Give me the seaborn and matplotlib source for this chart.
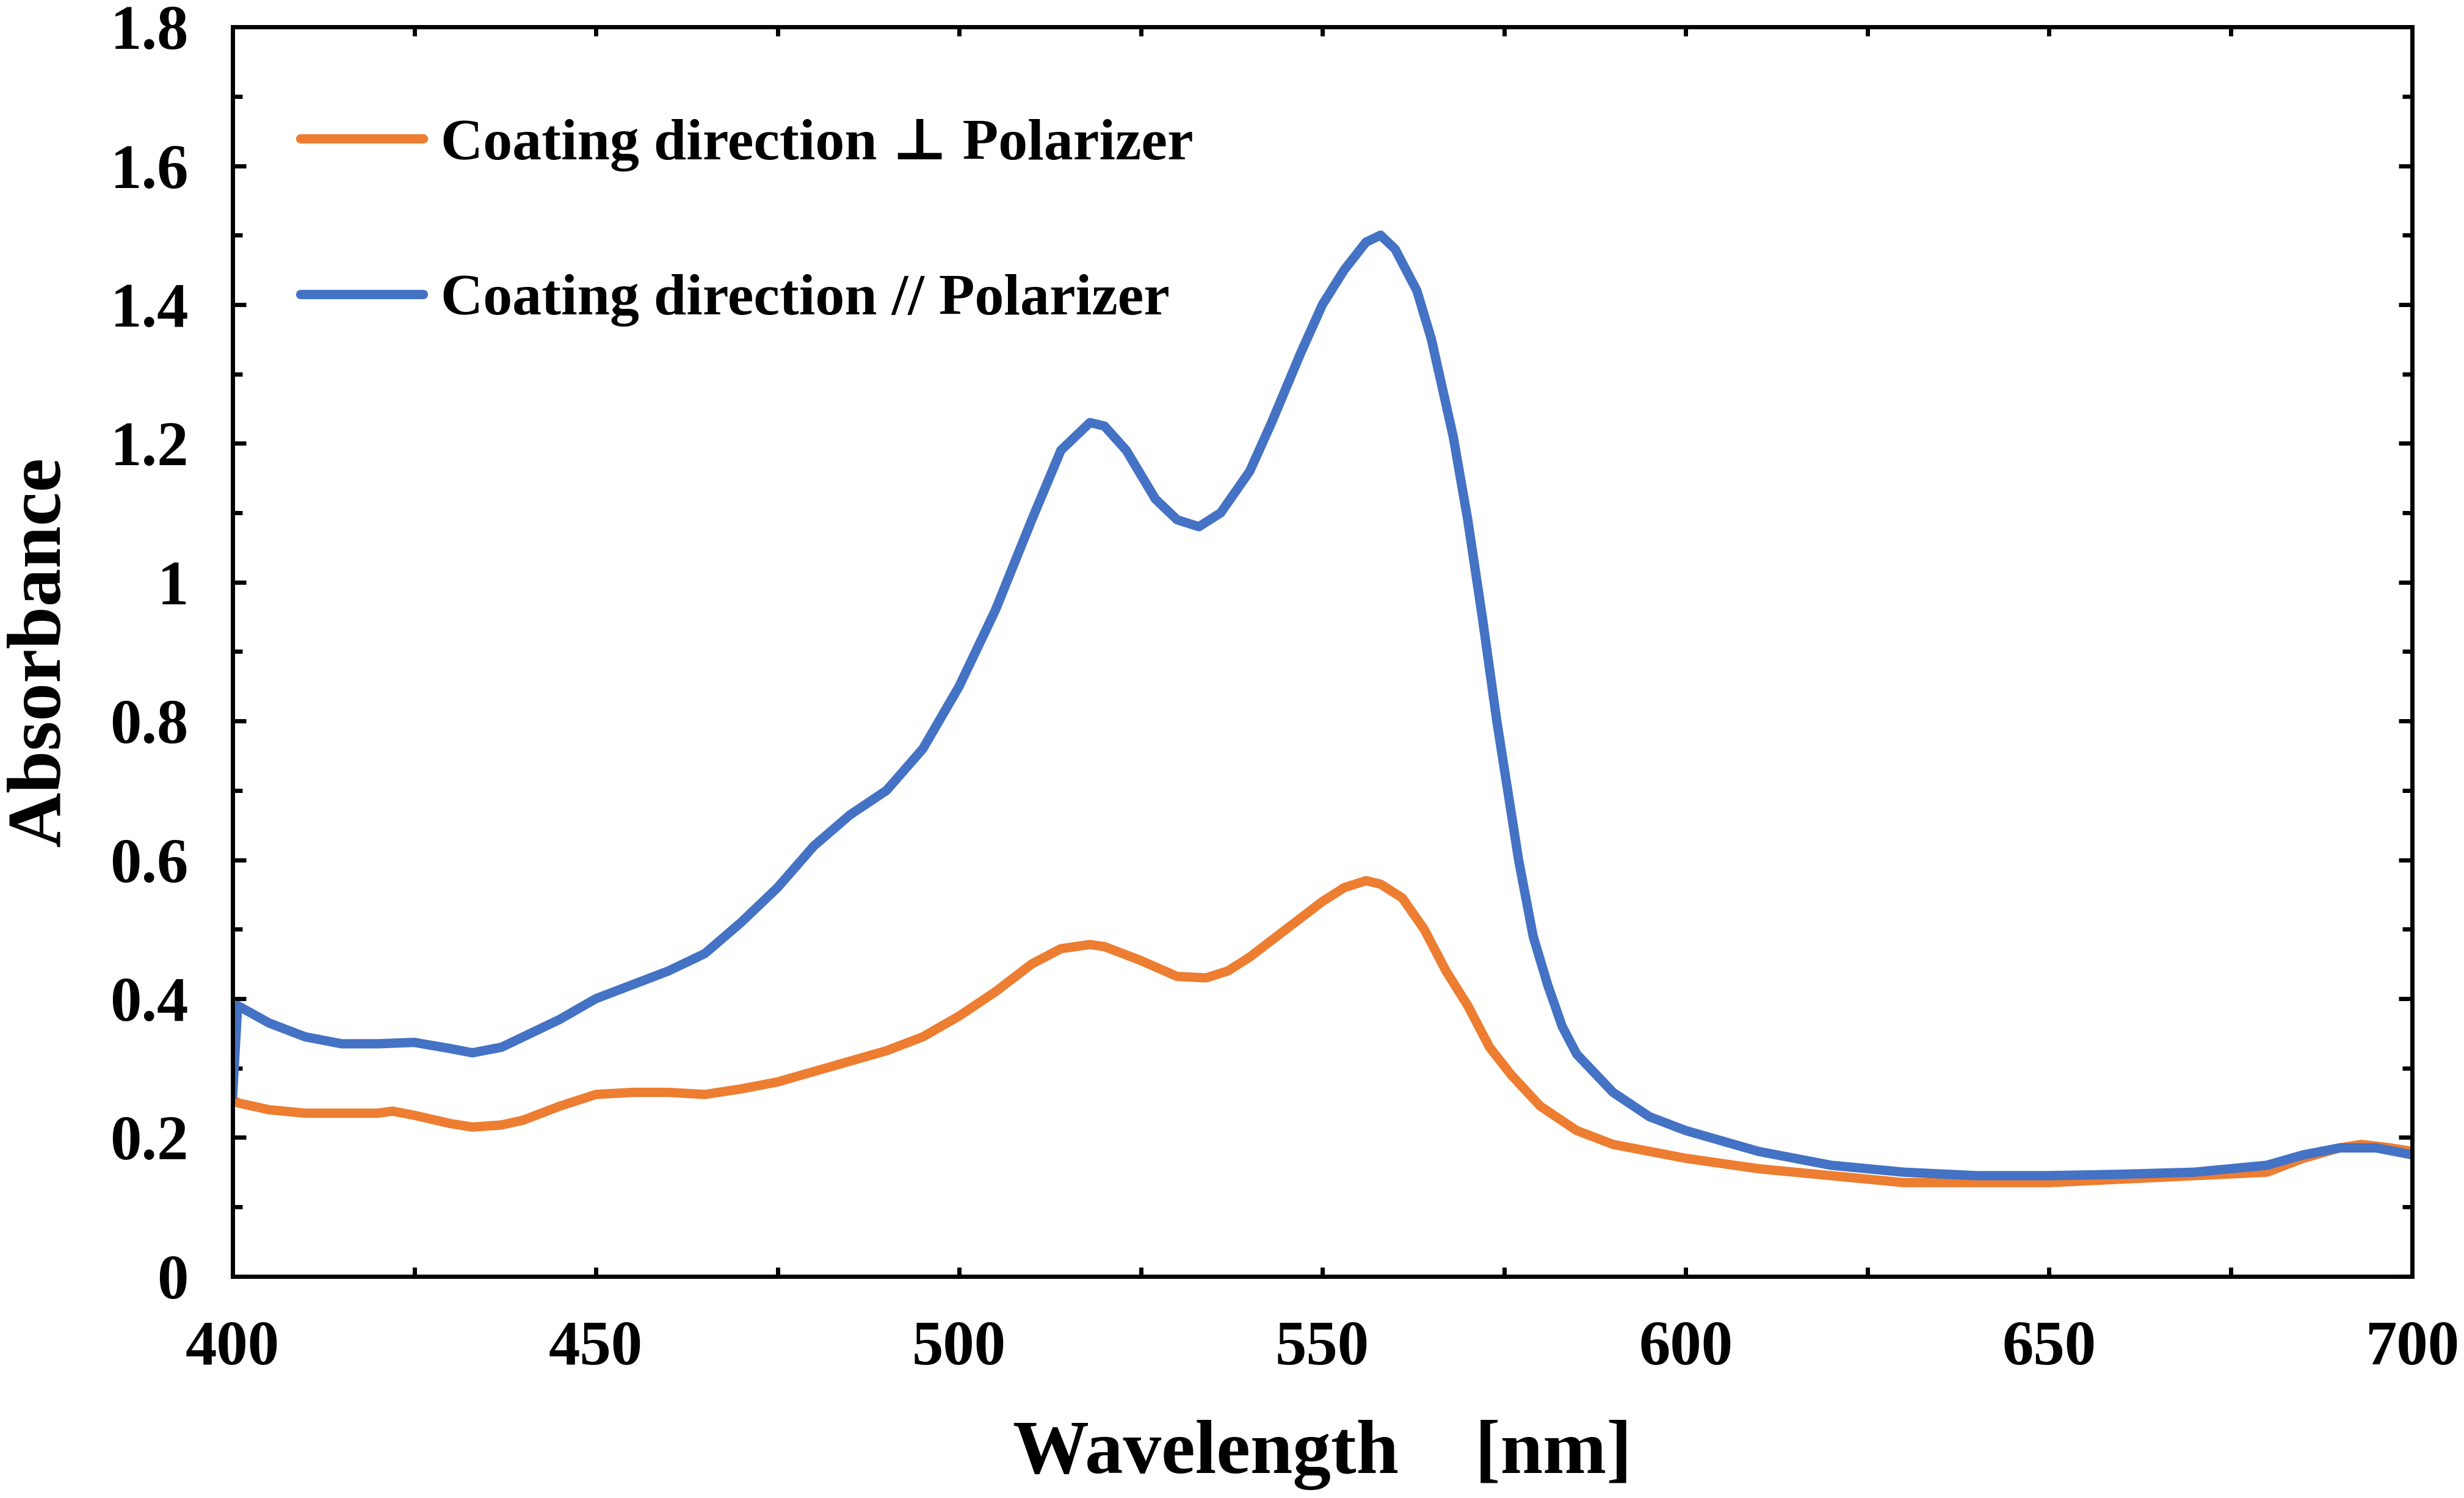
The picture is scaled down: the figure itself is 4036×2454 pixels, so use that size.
import matplotlib
matplotlib.use("Agg")
import matplotlib.pyplot as plt
from matplotlib.ticker import MultipleLocator, FuncFormatter
import seaborn as sns
import pandas as pd

# wavelength [nm] and absorbance
wl_perp = [400, 400.7, 405, 410, 415, 420, 422, 425, 430, 433, 437, 440, 445, 450, 455, 460,
           465, 470, 475, 480, 485, 490, 495, 500, 505, 510, 514, 518, 520, 525, 530, 534,
           537, 540, 545, 550, 553, 556, 558, 561, 564, 567, 570, 573, 576, 580, 585, 590,
           600, 610, 620, 630, 640, 650, 660, 670, 680, 685, 690, 693, 697, 700]
abs_perp = [0.255, 0.25, 0.24, 0.235, 0.235, 0.235, 0.238, 0.232, 0.22, 0.215, 0.218, 0.225,
            0.245, 0.262, 0.265, 0.265, 0.262, 0.27, 0.28, 0.295, 0.31, 0.325, 0.345, 0.375,
            0.41, 0.45, 0.472, 0.478, 0.475, 0.455, 0.432, 0.43, 0.44, 0.46, 0.50, 0.54, 0.56,
            0.57, 0.565, 0.545, 0.50, 0.44, 0.39, 0.33, 0.29, 0.245, 0.21, 0.19, 0.17, 0.155,
            0.145, 0.135, 0.135, 0.135, 0.14, 0.145, 0.15, 0.17, 0.185, 0.19, 0.185, 0.18]

wl_par = [400, 400.7, 405, 410, 415, 420, 425, 430, 433, 437, 440, 445, 450, 455, 460, 465,
          470, 475, 480, 485, 490, 495, 500, 505, 510, 514, 518, 520, 523, 527, 530, 533,
          536, 540, 543, 547, 550, 553, 556, 558, 560, 563, 565, 568, 570, 572, 574, 577,
          579, 581, 583, 585, 590, 595, 600, 610, 620, 630, 640, 650, 660, 670, 680, 685,
          690, 695, 700]
abs_par = [0.26, 0.39, 0.365, 0.345, 0.335, 0.335, 0.337, 0.328, 0.322, 0.33, 0.345, 0.37,
           0.40, 0.42, 0.44, 0.465, 0.51, 0.56, 0.62, 0.665, 0.70, 0.76, 0.85, 0.96, 1.09,
           1.19, 1.23, 1.225, 1.19, 1.12, 1.09, 1.08, 1.10, 1.16, 1.23, 1.33, 1.40, 1.45, 1.49,
           1.50, 1.48, 1.42, 1.35, 1.21, 1.09, 0.95, 0.80, 0.60, 0.49, 0.42, 0.36, 0.32, 0.265,
           0.23, 0.21, 0.18, 0.16, 0.15, 0.145, 0.145, 0.147, 0.15, 0.16, 0.175, 0.185, 0.185,
           0.175]

labels = ["Coating direction \u22a5 Polarizer", "Coating direction // Polarizer"]
colors = ["#ED7D31", "#4472C4"]

df = pd.concat([
    pd.DataFrame({"wl": wl_perp, "abs": abs_perp, "series": labels[0]}),
    pd.DataFrame({"wl": wl_par, "abs": abs_par, "series": labels[1]}),
])

sns.set_style("ticks")
plt.rcParams["font.family"] = ["Liberation Serif", "DejaVu Serif"]
plt.rcParams["font.weight"] = "bold"
for k in ["text.color", "axes.labelcolor", "xtick.color", "ytick.color", "axes.edgecolor"]:
    plt.rcParams[k] = "black"

fig, ax = plt.subplots(figsize=(20.18, 12.27), dpi=200)
fig.subplots_adjust(left=0.0944, right=0.979, top=0.982, bottom=0.148)

sns.lineplot(data=df, x="wl", y="abs", hue="series", palette=colors,
             linewidth=5.5, sort=False, ax=ax)
for ln in ax.get_lines():
    ln.set_solid_joinstyle("round")
    ln.set_solid_capstyle("round")

ax.set_xlim(400, 700)
ax.set_ylim(0, 1.8)
ax.xaxis.set_major_locator(MultipleLocator(50))
ax.xaxis.set_minor_locator(MultipleLocator(25))
ax.yaxis.set_major_locator(MultipleLocator(0.2))
ax.yaxis.set_minor_locator(MultipleLocator(0.1))
ax.yaxis.set_major_formatter(FuncFormatter(lambda v, p: "%g" % round(v, 1)))

for s in ax.spines.values():
    s.set_linewidth(2.5)
    s.set_color("black")

ax.tick_params(which="both", direction="in", top=True, right=True, width=2.5,
               color="black", labelsize=37, pad=26)
ax.tick_params(axis="y", which="major", length=8)
ax.tick_params(axis="y", which="minor", length=5.8)
ax.tick_params(axis="x", which="both", length=5.5)
for lab in ax.get_xticklabels() + ax.get_yticklabels():
    lab.set_fontweight("bold")

ax.set_xlabel("Wavelength    [nm]", fontsize=45, fontweight="bold", labelpad=25)
ax.set_ylabel("Absorbance", fontsize=45, fontweight="bold", labelpad=20)

leg = ax.legend(loc="upper left", bbox_to_anchor=(0.031, 0.927), frameon=False,
                prop={"size": 34.5, "weight": "bold"}, handlelength=2.1, handletextpad=0.3,
                labelspacing=1.75, borderpad=0, borderaxespad=0)
for h in leg.get_lines():
    h.set_linewidth(5.5)

fig.savefig("out.png", dpi=200, facecolor="white")
